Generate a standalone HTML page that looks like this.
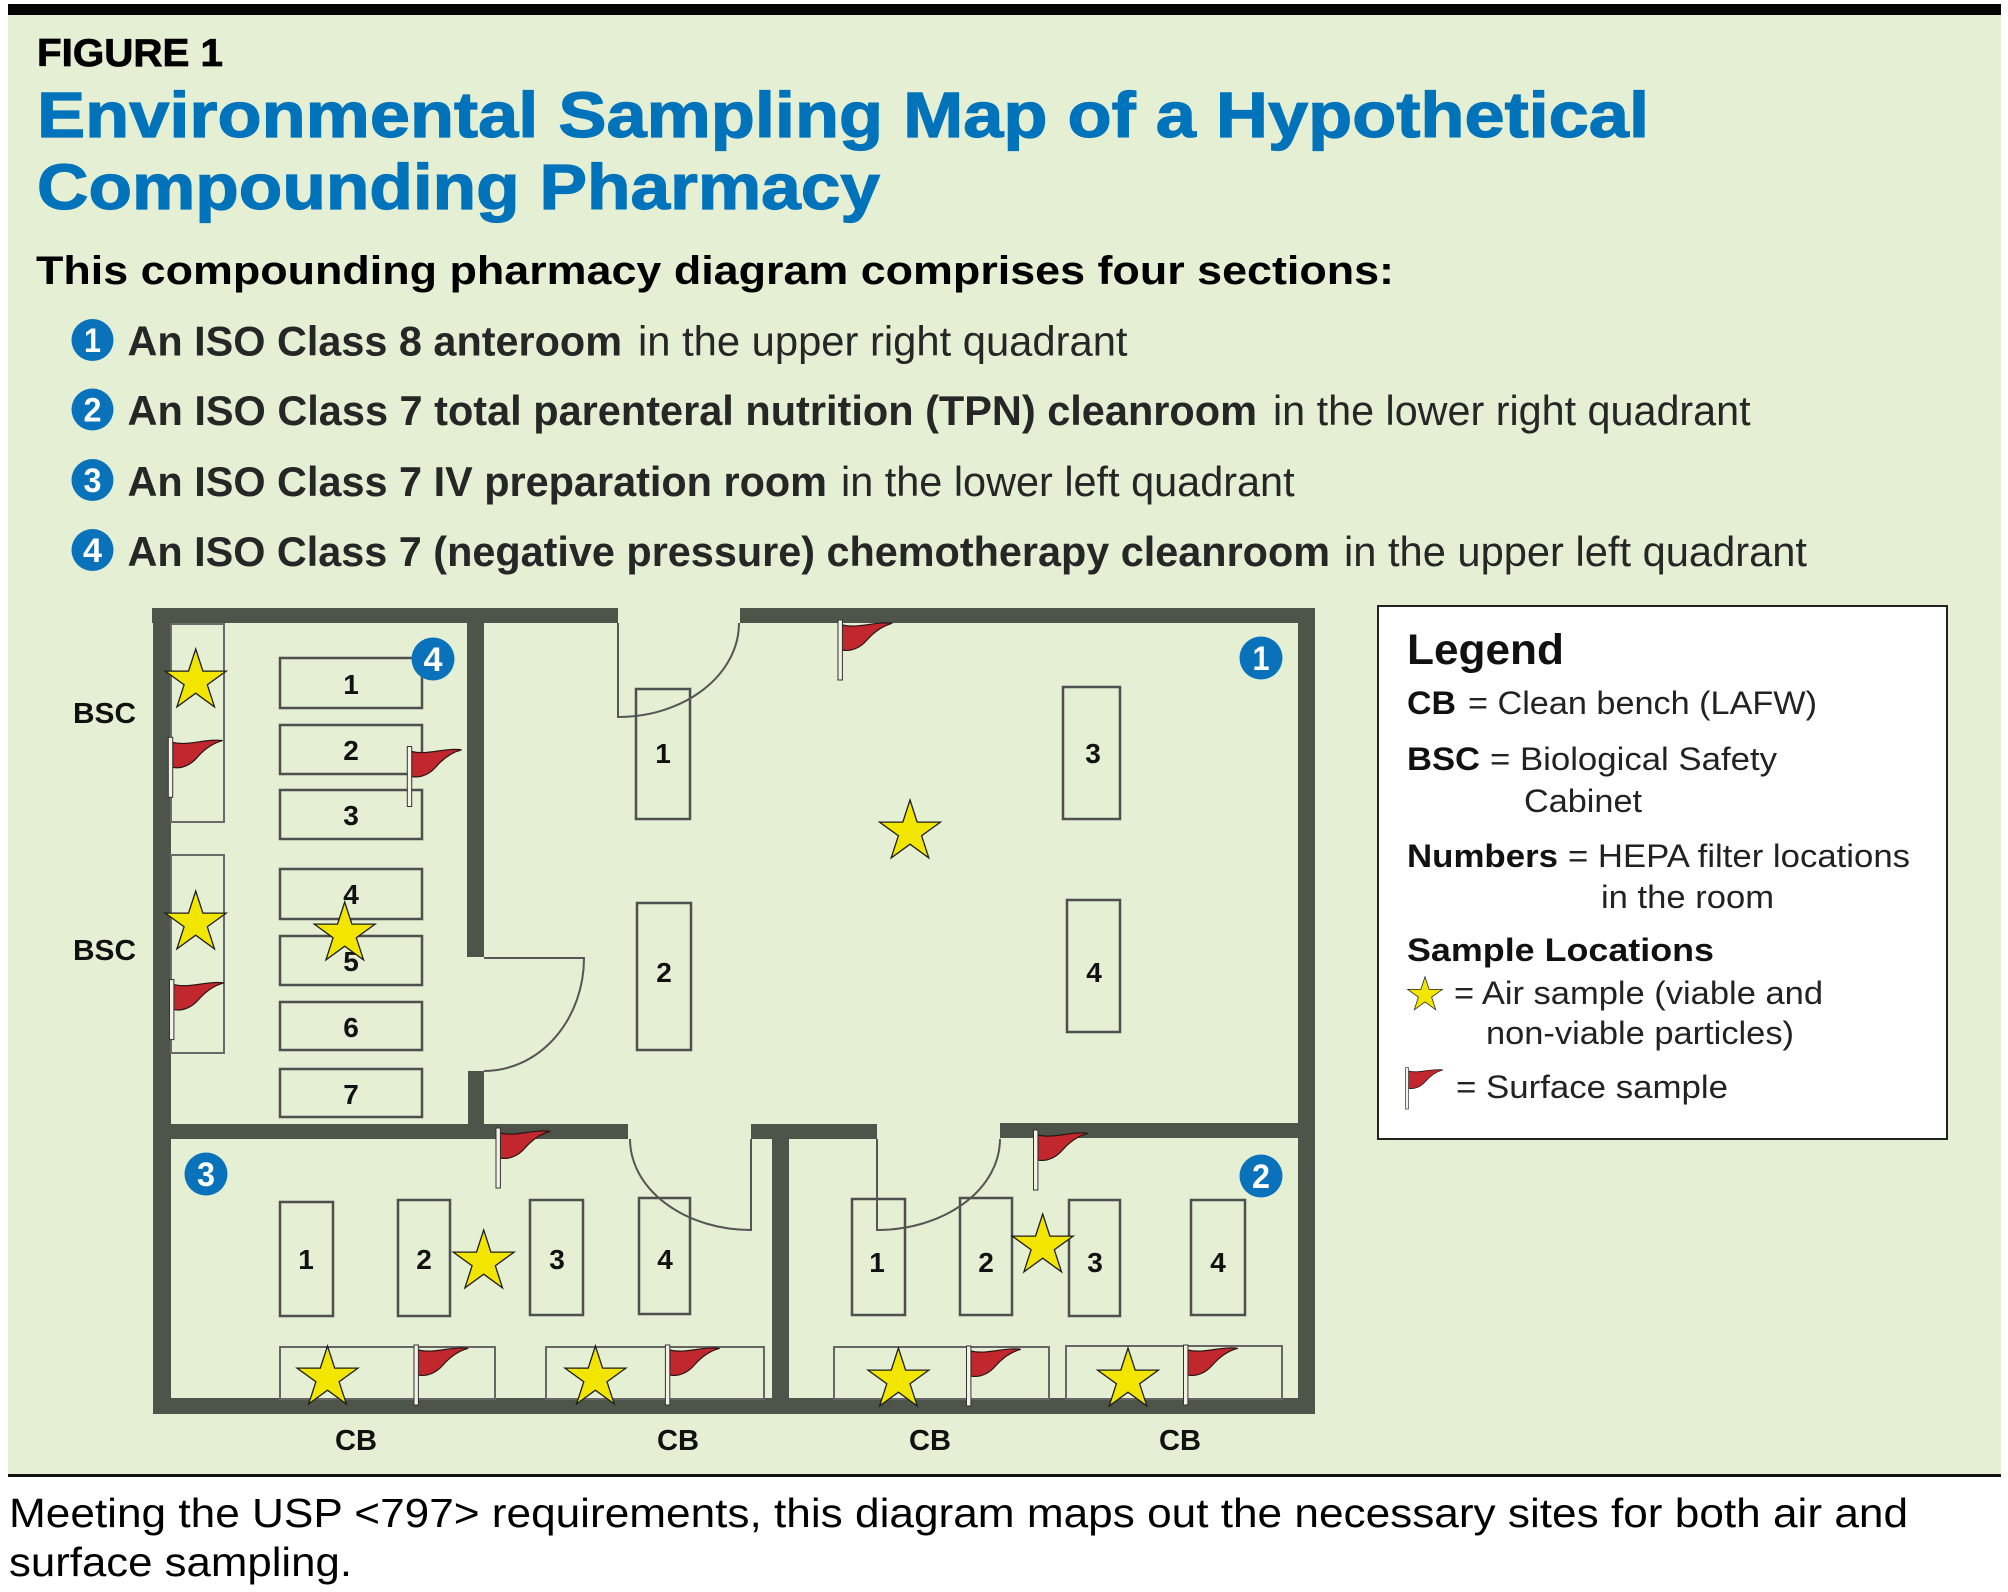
<!DOCTYPE html>
<html>
<head>
<meta charset="utf-8">
<style>
  html, body { margin: 0; padding: 0; background: #ffffff; }
  svg { display: block; }
  .b { font-weight: bold; }
</style>
</head>
<body>
<svg width="2008" height="1592" viewBox="0 0 2008 1592" xmlns="http://www.w3.org/2000/svg" font-family="'Liberation Sans', Arial, sans-serif">
  <defs>
    <path id="star" d="M0 -32 L7.18 -9.89 L30.43 -9.89 L11.62 3.78 L18.81 25.89 L0 12.22 L-18.81 25.89 L-11.62 3.78 L-30.43 -9.89 L-7.18 -9.89 Z" fill="#f2e600" stroke="#1e1e1e" stroke-width="1.3" stroke-linejoin="miter"/>
    <g id="flag">
      <path d="M4.4 5 C 20 9, 38 1, 54.3 3.3 C 44 6, 36 12, 29 20 C 23 27, 14 32, 4.4 30 Z" fill="#c1272d" stroke="#2a1414" stroke-width="1.2"/>
      <rect x="0" y="0" width="4.4" height="60" fill="#f4f2e6" stroke="#333" stroke-width="1"/>
    </g>
  </defs>

  <!-- background panel -->
  <rect x="8" y="4" width="1993" height="1470" fill="#e4efd4"/>
  <rect x="8" y="4" width="1993" height="11" fill="#050505"/>
  <rect x="8" y="1474" width="1993" height="3" fill="#111"/>

  <!-- header text -->
  <text x="37" y="66" font-size="39" class="b" fill="#000" stroke="#000" stroke-width="0.8" textLength="186" lengthAdjust="spacingAndGlyphs">FIGURE 1</text>
  <text x="37" y="137" font-size="64" class="b" fill="#0073bb" stroke="#0073bb" stroke-width="1.2" textLength="1612" lengthAdjust="spacingAndGlyphs">Environmental Sampling Map of a Hypothetical</text>
  <text x="37" y="209" font-size="64" class="b" fill="#0073bb" stroke="#0073bb" stroke-width="1.2" textLength="843" lengthAdjust="spacingAndGlyphs">Compounding Pharmacy</text>
  <text x="36" y="284" font-size="40" class="b" fill="#000" textLength="1358" lengthAdjust="spacingAndGlyphs">This compounding pharmacy diagram comprises four sections:</text>

  <!-- list -->
  <g>
    <circle cx="92.5" cy="340" r="21" fill="#0a72ba"/>
    <text x="92.5" y="352" font-size="34" class="b" fill="#fff" text-anchor="middle" textLength="17" lengthAdjust="spacingAndGlyphs">1</text>
    <text x="127.5" y="355.5" font-size="42" class="b" fill="#262626" textLength="494.5" lengthAdjust="spacingAndGlyphs">An ISO Class 8 anteroom</text>
    <text x="638" y="355.5" font-size="42" fill="#262626" textLength="489.5" lengthAdjust="spacingAndGlyphs">in the upper right quadrant</text>

    <circle cx="92.5" cy="409.5" r="21" fill="#0a72ba"/>
    <text x="92.5" y="421.5" font-size="34" class="b" fill="#fff" text-anchor="middle" textLength="18" lengthAdjust="spacingAndGlyphs">2</text>
    <text x="127.5" y="425" font-size="42" class="b" fill="#262626" textLength="1129.5" lengthAdjust="spacingAndGlyphs">An ISO Class 7 total parenteral nutrition (TPN) cleanroom</text>
    <text x="1273" y="425" font-size="42" fill="#262626" textLength="477.6" lengthAdjust="spacingAndGlyphs">in the lower right quadrant</text>

    <circle cx="92.5" cy="480" r="21" fill="#0a72ba"/>
    <text x="92.5" y="492" font-size="34" class="b" fill="#fff" text-anchor="middle" textLength="18" lengthAdjust="spacingAndGlyphs">3</text>
    <text x="127.5" y="496" font-size="42" class="b" fill="#262626" textLength="699.5" lengthAdjust="spacingAndGlyphs">An ISO Class 7 IV preparation room</text>
    <text x="841" y="496" font-size="42" fill="#262626" textLength="453.6" lengthAdjust="spacingAndGlyphs">in the lower left quadrant</text>

    <circle cx="92.5" cy="550" r="21" fill="#0a72ba"/>
    <text x="92.5" y="562" font-size="34" class="b" fill="#fff" text-anchor="middle" textLength="19" lengthAdjust="spacingAndGlyphs">4</text>
    <text x="127.5" y="566" font-size="42" class="b" fill="#262626" textLength="1202.5" lengthAdjust="spacingAndGlyphs">An ISO Class 7 (negative pressure) chemotherapy cleanroom</text>
    <text x="1344" y="566" font-size="42" fill="#262626" textLength="463" lengthAdjust="spacingAndGlyphs">in the upper left quadrant</text>
  </g>

  <!-- walls -->
  <g fill="#4d554b">
    <rect x="152" y="608" width="466" height="15"/>
    <rect x="740" y="608" width="575" height="15"/>
    <rect x="153" y="608" width="18" height="806"/>
    <rect x="1298" y="608" width="17" height="806"/>
    <rect x="153" y="1398" width="1162" height="16"/>
    <rect x="467" y="608" width="17" height="349"/>
    <rect x="468" y="1071" width="16" height="60"/>
    <rect x="153" y="1124" width="475" height="15"/>
    <rect x="751" y="1124" width="126" height="15"/>
    <rect x="772" y="1124" width="17" height="280"/>
    <rect x="1000" y="1123" width="315" height="15"/>
  </g>

  <!-- BSC boxes -->
  <g fill="none" stroke="#6a6a6a" stroke-width="2">
    <rect x="171" y="624" width="53" height="198"/>
    <rect x="171" y="855" width="53" height="198"/>
  </g>

  <!-- tables -->
  <g fill="none" stroke="#4f4f4f" stroke-width="2.5">
    <rect x="280" y="658" width="142" height="50"/>
    <rect x="280" y="725" width="142" height="49"/>
    <rect x="280" y="790" width="142" height="49"/>
    <rect x="280" y="869" width="142" height="50"/>
    <rect x="280" y="936" width="142" height="49"/>
    <rect x="280" y="1002" width="142" height="48"/>
    <rect x="280" y="1069" width="142" height="48"/>

    <rect x="636" y="689" width="54" height="130"/>
    <rect x="637" y="903" width="54" height="147"/>
    <rect x="1063" y="687" width="57" height="132"/>
    <rect x="1067" y="900" width="53" height="132"/>

    <rect x="280" y="1202" width="53" height="114"/>
    <rect x="398" y="1200" width="52" height="116"/>
    <rect x="530" y="1200" width="53" height="115"/>
    <rect x="639" y="1198" width="51" height="116"/>

    <rect x="852" y="1199" width="53" height="116"/>
    <rect x="960" y="1198" width="52" height="117"/>
    <rect x="1069" y="1200" width="51" height="116"/>
    <rect x="1191" y="1200" width="54" height="115"/>
  </g>
  <g fill="none" stroke="#666" stroke-width="2">
    <rect x="280" y="1347" width="215" height="52"/>
    <rect x="546" y="1347" width="218" height="52"/>
    <rect x="834" y="1347" width="215" height="52"/>
    <rect x="1066" y="1346" width="216" height="53"/>
  </g>

  <!-- doors -->
  <g fill="none" stroke="#555" stroke-width="2">
    <path d="M618 623 V717 A121 94 0 0 0 739 623"/>
    <path d="M484 958 H584 A100 113 0 0 1 484 1071"/>
    <path d="M751 1139 V1230 A121 91 0 0 1 630 1139"/>
    <path d="M877 1139 V1230 A123 91 0 0 0 1000 1139"/>
  </g>

  <!-- table labels -->
  <g font-size="28" class="b" fill="#111" text-anchor="middle">
    <text x="351" y="694">1</text>
    <text x="351" y="760">2</text>
    <text x="351" y="825">3</text>
    <text x="351" y="904">4</text>
    <text x="351" y="971">5</text>
    <text x="351" y="1037">6</text>
    <text x="351" y="1104">7</text>

    <text x="663" y="763">1</text>
    <text x="664" y="982">2</text>
    <text x="1093" y="763">3</text>
    <text x="1094" y="982">4</text>

    <text x="306" y="1269">1</text>
    <text x="424" y="1269">2</text>
    <text x="557" y="1269">3</text>
    <text x="665" y="1269">4</text>

    <text x="877" y="1272">1</text>
    <text x="986" y="1272">2</text>
    <text x="1095" y="1272">3</text>
    <text x="1218" y="1272">4</text>
  </g>

  <!-- CB / BSC labels -->
  <g font-size="29" class="b" fill="#111">
    <text x="73" y="723" textLength="63" lengthAdjust="spacingAndGlyphs">BSC</text>
    <text x="73" y="960" textLength="63" lengthAdjust="spacingAndGlyphs">BSC</text>
    <text x="335" y="1450" textLength="42" lengthAdjust="spacingAndGlyphs">CB</text>
    <text x="657" y="1450" textLength="42" lengthAdjust="spacingAndGlyphs">CB</text>
    <text x="909" y="1450" textLength="42" lengthAdjust="spacingAndGlyphs">CB</text>
    <text x="1159" y="1450" textLength="42" lengthAdjust="spacingAndGlyphs">CB</text>
  </g>

  <!-- room number circles -->
  <g>
    <circle cx="433" cy="659" r="21.5" fill="#0a72ba"/>
    <text x="433" y="671" font-size="34" class="b" fill="#fff" text-anchor="middle" textLength="19" lengthAdjust="spacingAndGlyphs">4</text>
    <circle cx="1261" cy="658" r="21.5" fill="#0a72ba"/>
    <text x="1261" y="670" font-size="34" class="b" fill="#fff" text-anchor="middle" textLength="17" lengthAdjust="spacingAndGlyphs">1</text>
    <circle cx="206" cy="1174" r="21.5" fill="#0a72ba"/>
    <text x="206" y="1186" font-size="34" class="b" fill="#fff" text-anchor="middle" textLength="18" lengthAdjust="spacingAndGlyphs">3</text>
    <circle cx="1261" cy="1176" r="21.5" fill="#0a72ba"/>
    <text x="1261" y="1188" font-size="34" class="b" fill="#fff" text-anchor="middle" textLength="18" lengthAdjust="spacingAndGlyphs">2</text>
  </g>

  <!-- stars -->
  <use href="#star" x="195.7" y="681"/>
  <use href="#star" x="195.7" y="923"/>
  <use href="#star" x="344.7" y="934"/>
  <use href="#star" x="910" y="832"/>
  <use href="#star" x="483.7" y="1262"/>
  <use href="#star" x="1042.7" y="1246"/>
  <use href="#star" x="327.5" y="1378"/>
  <use href="#star" x="595.4" y="1378"/>
  <use href="#star" x="898.4" y="1380"/>
  <use href="#star" x="1128" y="1380"/>

  <!-- flags -->
  <use href="#flag" x="168.3" y="737.3"/>
  <use href="#flag" x="407.3" y="746.5"/>
  <use href="#flag" x="169.5" y="979.6"/>
  <use href="#flag" x="496" y="1128"/>
  <use href="#flag" x="838" y="620"/>
  <use href="#flag" x="1033.5" y="1130"/>
  <use href="#flag" x="414" y="1345"/>
  <use href="#flag" x="665.4" y="1345"/>
  <use href="#flag" x="966.5" y="1346"/>
  <use href="#flag" x="1183.5" y="1345"/>

  <!-- legend -->
  <rect x="1378" y="606" width="569" height="533" fill="#ffffff" stroke="#222" stroke-width="2"/>
  <g fill="#111">
    <text x="1407" y="664" font-size="43" class="b" textLength="157" lengthAdjust="spacingAndGlyphs">Legend</text>
    <text x="1407" y="714" font-size="32" class="b" textLength="49" lengthAdjust="spacingAndGlyphs">CB</text>
    <text x="1468" y="714" font-size="32" fill="#222" textLength="349" lengthAdjust="spacingAndGlyphs">= Clean bench (LAFW)</text>
    <text x="1407" y="770" font-size="32" class="b" textLength="73" lengthAdjust="spacingAndGlyphs">BSC</text>
    <text x="1490" y="770" font-size="32" fill="#222" textLength="287" lengthAdjust="spacingAndGlyphs">= Biological Safety</text>
    <text x="1524" y="812" font-size="32" fill="#222" textLength="118" lengthAdjust="spacingAndGlyphs">Cabinet</text>
    <text x="1407" y="867" font-size="32" class="b" textLength="151" lengthAdjust="spacingAndGlyphs">Numbers</text>
    <text x="1568" y="867" font-size="32" fill="#222" textLength="342" lengthAdjust="spacingAndGlyphs">= HEPA filter locations</text>
    <text x="1601" y="908" font-size="32" fill="#222" textLength="173" lengthAdjust="spacingAndGlyphs">in the room</text>
    <text x="1407" y="961" font-size="32" class="b" textLength="307" lengthAdjust="spacingAndGlyphs">Sample Locations</text>
    <text x="1454" y="1004" font-size="32" fill="#222" textLength="369" lengthAdjust="spacingAndGlyphs">= Air sample (viable and</text>
    <text x="1486" y="1044" font-size="32" fill="#222" textLength="308" lengthAdjust="spacingAndGlyphs">non-viable particles)</text>
    <text x="1456" y="1098" font-size="32" fill="#222" textLength="272" lengthAdjust="spacingAndGlyphs">= Surface sample</text>
  </g>
  <g transform="translate(1425 995) scale(0.57)">
    <use href="#star"/>
  </g>
  <g transform="translate(1405.5 1067.6) scale(0.69)">
    <use href="#flag"/>
  </g>

  <!-- caption -->
  <text x="9" y="1527" font-size="41" fill="#000" textLength="1899" lengthAdjust="spacingAndGlyphs">Meeting the USP &lt;797&gt; requirements, this diagram maps out the necessary sites for both air and</text>
  <text x="9" y="1576" font-size="41" fill="#000" textLength="343" lengthAdjust="spacingAndGlyphs">surface sampling.</text>
</svg>
</body>
</html>
